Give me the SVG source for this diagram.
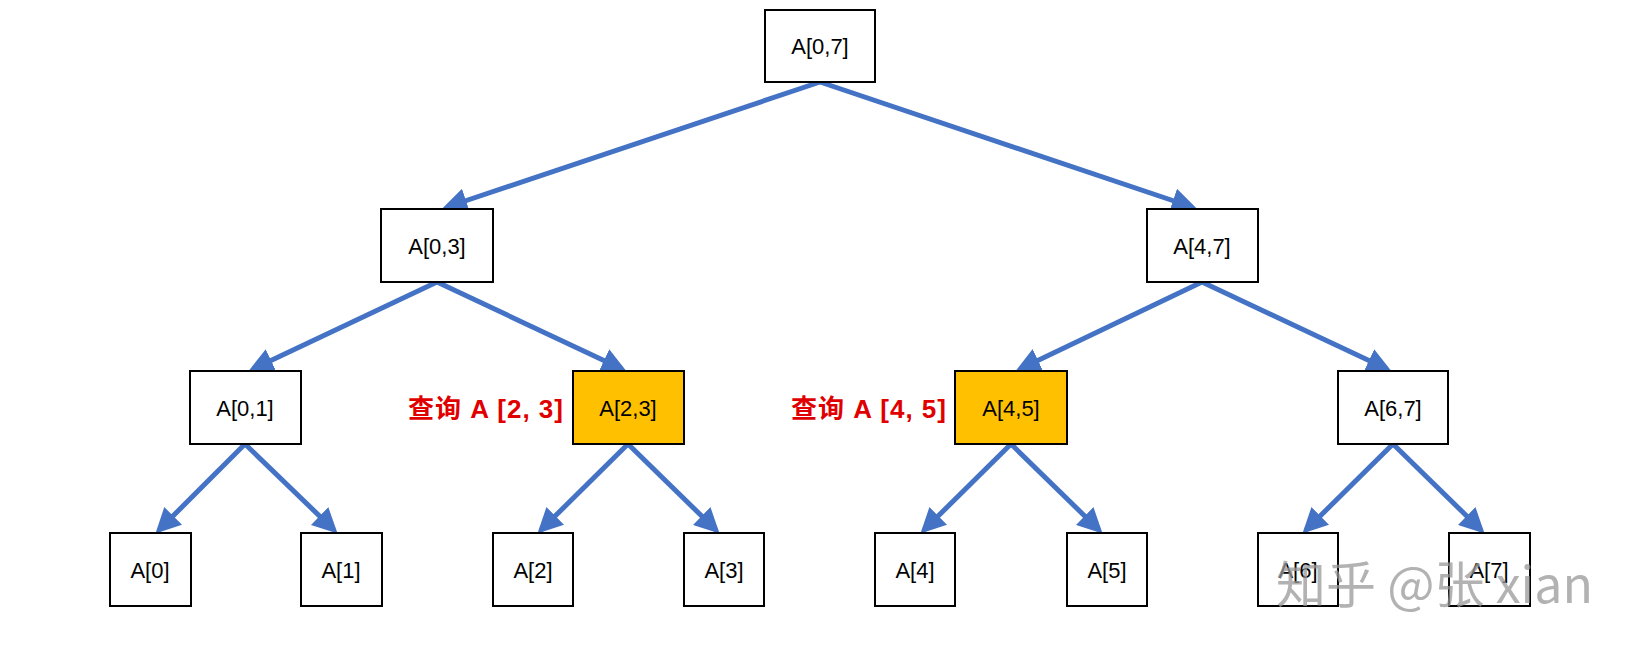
<svg xmlns="http://www.w3.org/2000/svg" width="1630" height="659" viewBox="0 0 1630 659">
<style>
.n rect{fill:#fff;stroke:#000;stroke-width:2}
.n.h rect{fill:#FFC000}
.n text{font-family:"Liberation Sans",Arial,sans-serif;font-size:22px;text-anchor:middle;dominant-baseline:central;fill:#000}
.c line{stroke:#4472C4;stroke-width:5;marker-end:url(#a)}
.lbl{font-family:"Liberation Sans","Noto Sans CJK SC",sans-serif;font-size:26px;font-weight:bold;fill:#E00000;letter-spacing:1px}
.wm{font-family:"Noto Sans CJK SC","Liberation Sans",sans-serif;font-size:50px;fill:#999;opacity:0.75}
</style>
<defs><marker id="a" markerWidth="5" markerHeight="5" refX="4" refY="2.5" orient="auto"><path d="M0,0L5,2.5L0,5z" fill="#4472C4"/></marker></defs>
<g class="c">
<line x1="820" y1="82" x2="447" y2="207"/>
<line x1="820" y1="82" x2="1192" y2="207"/>
<line x1="437" y1="282" x2="253" y2="369"/>
<line x1="437" y1="282" x2="622" y2="369"/>
<line x1="1202" y1="282" x2="1020" y2="369"/>
<line x1="1202" y1="282" x2="1387" y2="369"/>
<line x1="245" y1="444" x2="159" y2="530"/>
<line x1="245" y1="444" x2="334" y2="530"/>
<line x1="628" y1="444" x2="541" y2="530"/>
<line x1="628" y1="444" x2="716" y2="530"/>
<line x1="1011" y1="444" x2="924" y2="530"/>
<line x1="1011" y1="444" x2="1099" y2="530"/>
<line x1="1393" y1="444" x2="1306" y2="530"/>
<line x1="1393" y1="444" x2="1481" y2="530"/>
</g>
<g id="n07" class="n"><rect x="765" y="10" width="110" height="72"/><text x="820" y="46">A[0,7]</text></g>
<g id="n03" class="n"><rect x="381" y="209" width="112" height="73"/><text x="437" y="246">A[0,3]</text></g>
<g id="n47" class="n"><rect x="1147" y="209" width="111" height="73"/><text x="1202" y="246">A[4,7]</text></g>
<g id="n01" class="n"><rect x="190" y="371" width="111" height="73"/><text x="245" y="408">A[0,1]</text></g>
<g id="n23" class="n h"><rect x="573" y="371" width="111" height="73"/><text x="628" y="408">A[2,3]</text></g>
<g id="n45" class="n h"><rect x="955" y="371" width="112" height="73"/><text x="1011" y="408">A[4,5]</text></g>
<g id="n67" class="n"><rect x="1338" y="371" width="110" height="73"/><text x="1393" y="408">A[6,7]</text></g>
<g id="l0" class="n"><rect x="110" y="533" width="81" height="73"/><text x="150" y="570">A[0]</text></g>
<g id="l1" class="n"><rect x="301" y="533" width="81" height="73"/><text x="341" y="570">A[1]</text></g>
<g id="l2" class="n"><rect x="493" y="533" width="80" height="73"/><text x="533" y="570">A[2]</text></g>
<g id="l3" class="n"><rect x="684" y="533" width="80" height="73"/><text x="724" y="570">A[3]</text></g>
<g id="l4" class="n"><rect x="875" y="533" width="80" height="73"/><text x="915" y="570">A[4]</text></g>
<g id="l5" class="n"><rect x="1067" y="533" width="80" height="73"/><text x="1107" y="570">A[5]</text></g>
<g id="l6" class="n"><rect x="1258" y="533" width="80" height="73"/><text x="1298" y="570">A[6]</text></g>
<g id="l7" class="n"><rect x="1449" y="533" width="81" height="73"/><text x="1489" y="570">A[7]</text></g>
<text class="lbl" x="408" y="418">查询 A [2, 3]</text>
<text class="lbl" x="791" y="418">查询 A [4, 5]</text>
<text class="wm" x="1276" y="603">知乎 @张 xian</text>
</svg>
